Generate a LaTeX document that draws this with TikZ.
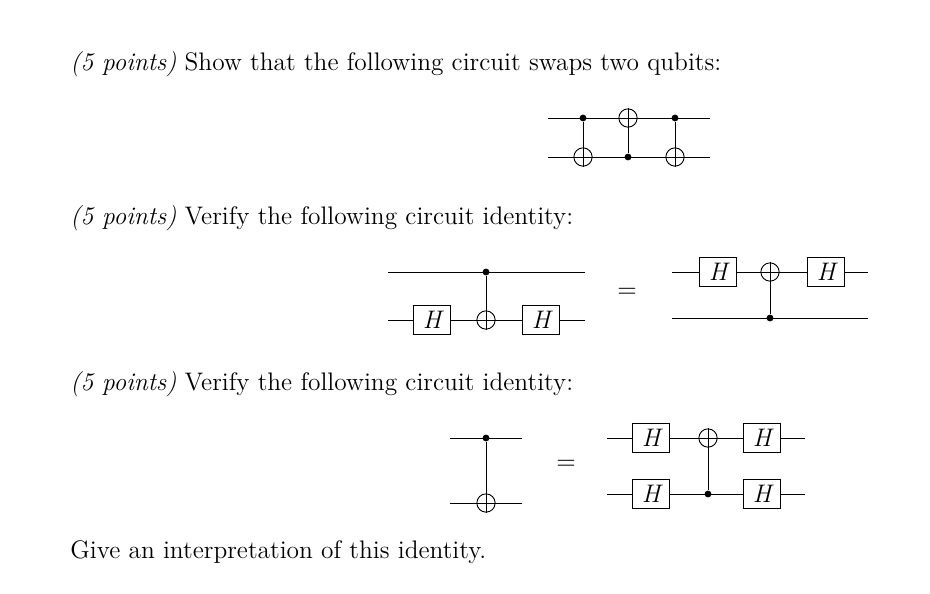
\documentclass[tikz,border=0pt]{standalone}
\begin{document}
\begin{tikzpicture}[x=0.4375pt,y=-0.4375pt,font=\fontsize{11.1}{13}\selectfont,
  wire/.style={line width=0.4pt},
  ctrl/.style={circle,fill=black,inner sep=0pt,minimum size=3pt},
  targ/.style={circle,draw,inner sep=0pt,minimum size=8pt,path picture={\draw (path picture bounding box.north)--(path picture bounding box.south) (path picture bounding box.west)--(path picture bounding box.east);}},
  hgate/.style={draw,fill=white,inner sep=0pt,minimum width=16pt,minimum height=12.5pt,font=\fontsize{11.1}{13}\selectfont\itshape},
  txt/.style={anchor=base west,inner sep=0pt}]
\useasboundingbox (0,0) rectangle (930,593);
\node[txt] (t1) at (70,70) {\textit{(5 points)} Show that the following circuit swaps two qubits:};
\node[txt] (t2) at (70,224) {\textit{(5 points)} Verify the following circuit identity:};
\node[txt] (t3) at (70,390) {\textit{(5 points)} Verify the following circuit identity:};
\node[txt] (t4) at (70,558) {Give an interpretation of this identity.};
% circuit 1
\draw[wire] (548,118)--(710,118) (548,157)--(710,157);
\node[ctrl] (c1) at (583,118) {}; \node[targ] (x1) at (583,157) {};
\node[targ] (x2) at (628,118) {}; \node[ctrl] (c2) at (628,157) {};
\node[ctrl] (c3) at (675,118) {}; \node[targ] (x3) at (675,157) {};
\draw (c1)--(x1.south) (c2)--(x2.north) (c3)--(x3.south);
% circuit 2 left
\draw[wire] (388,272)--(585,272) (388,320)--(585,320);
\node[hgate] (h1) at (432,320) {H}; \node[hgate] (h2) at (541,320) {H};
\node[ctrl] (c4) at (486,272) {}; \node[targ] (x4) at (486,320) {};
\draw (c4)--(x4.south);
\node (eq1) at (627,293) {$=$};
% circuit 2 right
\draw[wire] (672,272)--(868,272) (672,318)--(868,318);
\node[hgate] (h3) at (718,272) {H}; \node[hgate] (h4) at (826,272) {H};
\node[targ] (x5) at (770,272) {}; \node[ctrl] (c5) at (770,318) {};
\draw (c5)--(x5.north);
% circuit 3 left
\draw[wire] (450,438)--(522,438) (450,503)--(522,503);
\node[ctrl] (c6) at (486,438) {}; \node[targ] (x6) at (486,503) {};
\draw (c6)--(x6.south);
\node (eq2) at (566,465) {$=$};
% circuit 3 right
\draw[wire] (607,438)--(805,438) (607,494)--(805,494);
\node[hgate] (h5) at (651,438) {H}; \node[hgate] (h6) at (651,494) {H};
\node[hgate] (h7) at (762,438) {H}; \node[hgate] (h8) at (762,494) {H};
\node[targ] (x7) at (708,438) {}; \node[ctrl] (c7) at (708,494) {};
\draw (c7)--(x7.north);
\end{tikzpicture}
\end{document}
